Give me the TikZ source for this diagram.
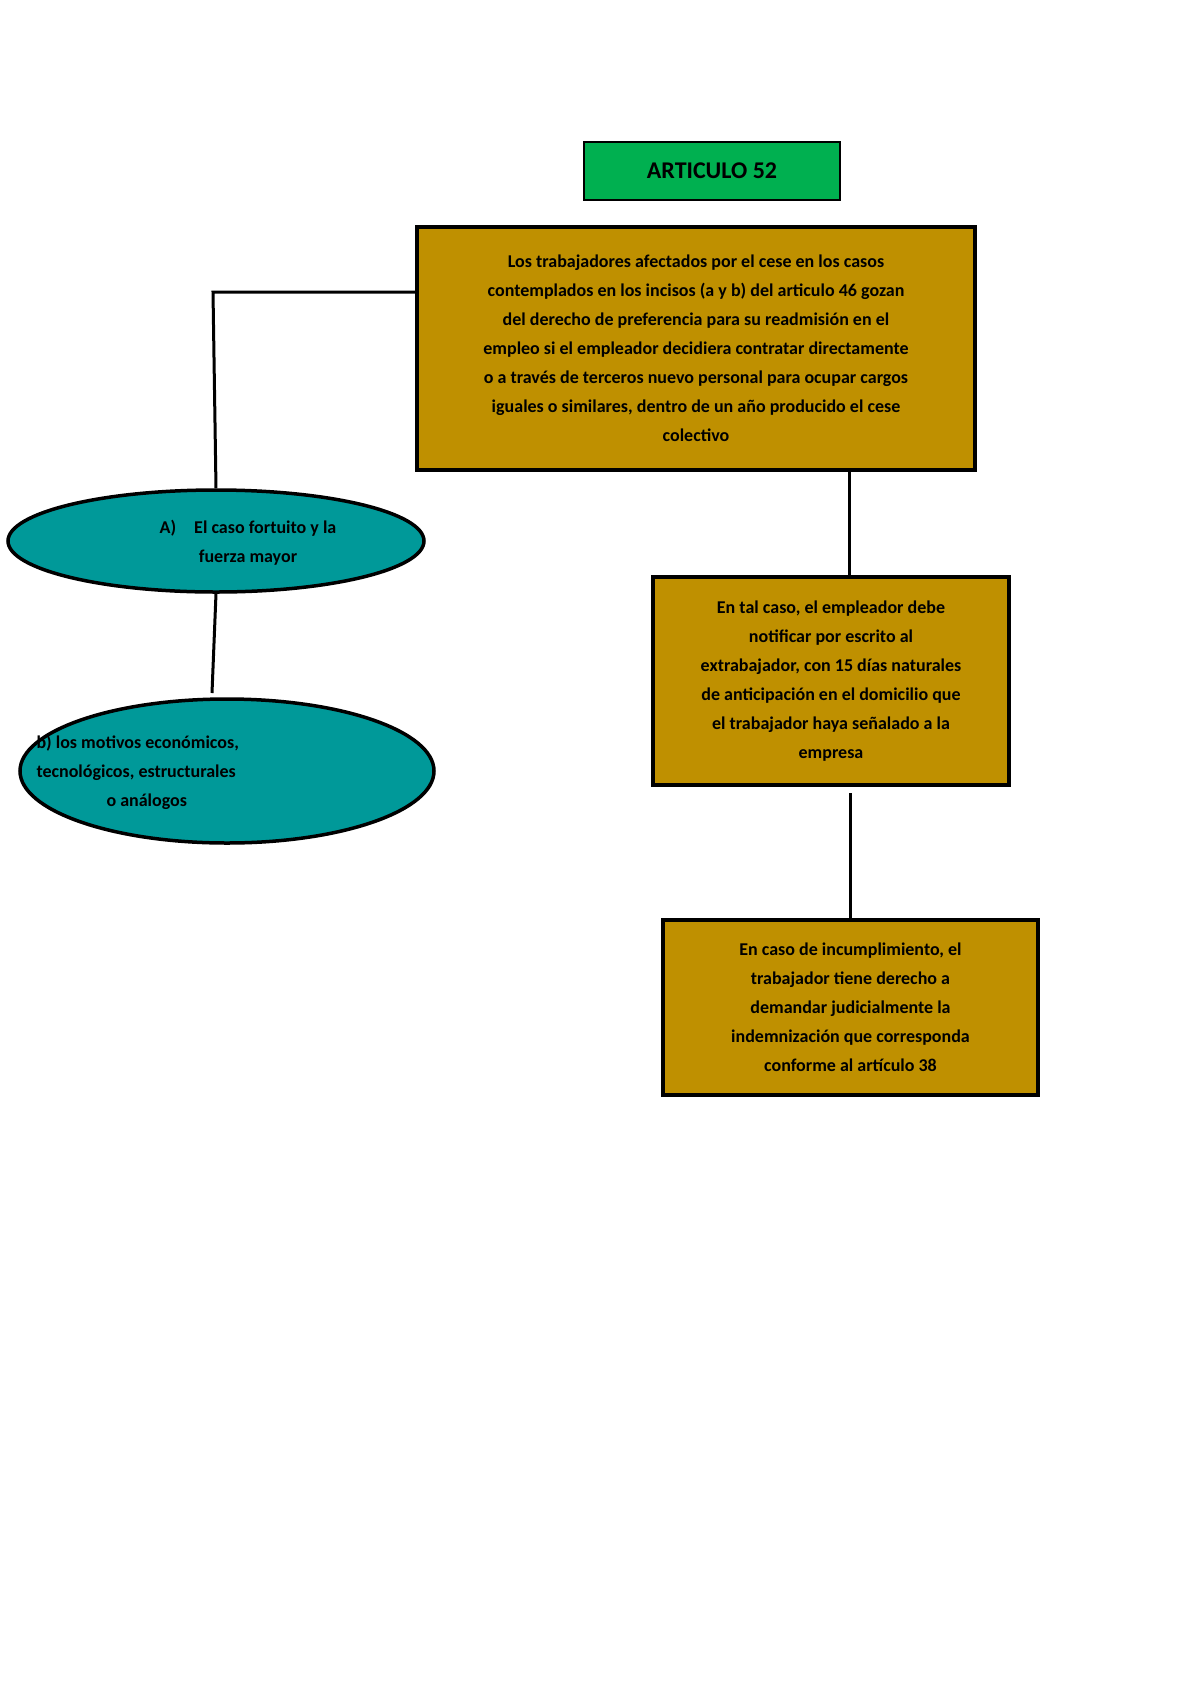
\documentclass[tikz,border=0pt]{standalone}
\usepackage{fontspec}
\setmainfont{Carlito}
\usetikzlibrary{shapes.geometric}
\definecolor{gold}{HTML}{BF9000}
\definecolor{grn}{HTML}{00B050}
\definecolor{teal2}{HTML}{009999}
\begin{document}
\begin{tikzpicture}[x=1pt,y=-1pt,
 gbox/.style={draw=black,line width=3.5pt,fill=gold,inner sep=0,font=\bfseries\fontsize{18}{29}\selectfont,align=center},
 ell/.style={draw=black,line width=3.5pt,fill=teal2,inner sep=0,font=\bfseries\fontsize{18}{29}\selectfont,align=center},
 conn/.style={line width=3pt}]
\useasboundingbox (0,0) rectangle (1200,1698);
\node[draw=black,line width=2pt,fill=grn,minimum width=256pt,minimum height=58pt,font=\bfseries\fontsize{24}{28}\selectfont] (t) at (712,171) {ARTICULO 52};
\node[gbox,minimum width=558pt,minimum height=243pt] (m) at (696,348.5) {Los trabajadores afectados por el cese en los casos\\contemplados en los incisos (a y b) del articulo 46 gozan\\del derecho de preferencia para su readmisión en el\\empleo si el empleador decidiera contratar directamente\\o a través de terceros nuevo personal para ocupar cargos\\iguales o similares, dentro de un año producido el cese\\colectivo};
\node[ell,ellipse,minimum width=416pt,minimum height=102pt] (a) at (216,541) {};
\node[font=\bfseries\fontsize{18}{29}\selectfont,align=center] at (248,543) {A)\quad El caso fortuito y la\\fuerza mayor};
\node[ell,ellipse,minimum width=414pt,minimum height=144pt] (b) at (227,771) {};
\node[font=\bfseries\fontsize{18}{29}\selectfont,align=left,anchor=west] at (33,772) {b) los motivos económicos,\\tecnológicos, estructurales\\\hspace*{70pt}o análogos};
\node[gbox,minimum width=356pt,minimum height=208pt] (c) at (831,681) {En tal caso, el empleador debe\\notificar por escrito al\\extrabajador, con 15 días naturales\\de anticipación en el domicilio que\\el trabajador haya señalado a la\\empresa};
\node[gbox,minimum width=375pt,minimum height=175pt] (d) at (850.5,1007.5) {En caso de incumplimiento, el\\trabajador tiene derecho a\\demandar judicialmente la\\indemnización que corresponda\\conforme al artículo 38};
\coordinate (cb) at (850,793);
\draw[conn] (m.west|-0,292) -- (213,292) -- (a.north);
\draw[conn] (a.south) -- (212,693);
\draw[conn] (m.south-|849,0) -- (c.north-|849,0);
\draw[conn] (cb) -- (d.north-|cb);
\end{tikzpicture}
\end{document}
